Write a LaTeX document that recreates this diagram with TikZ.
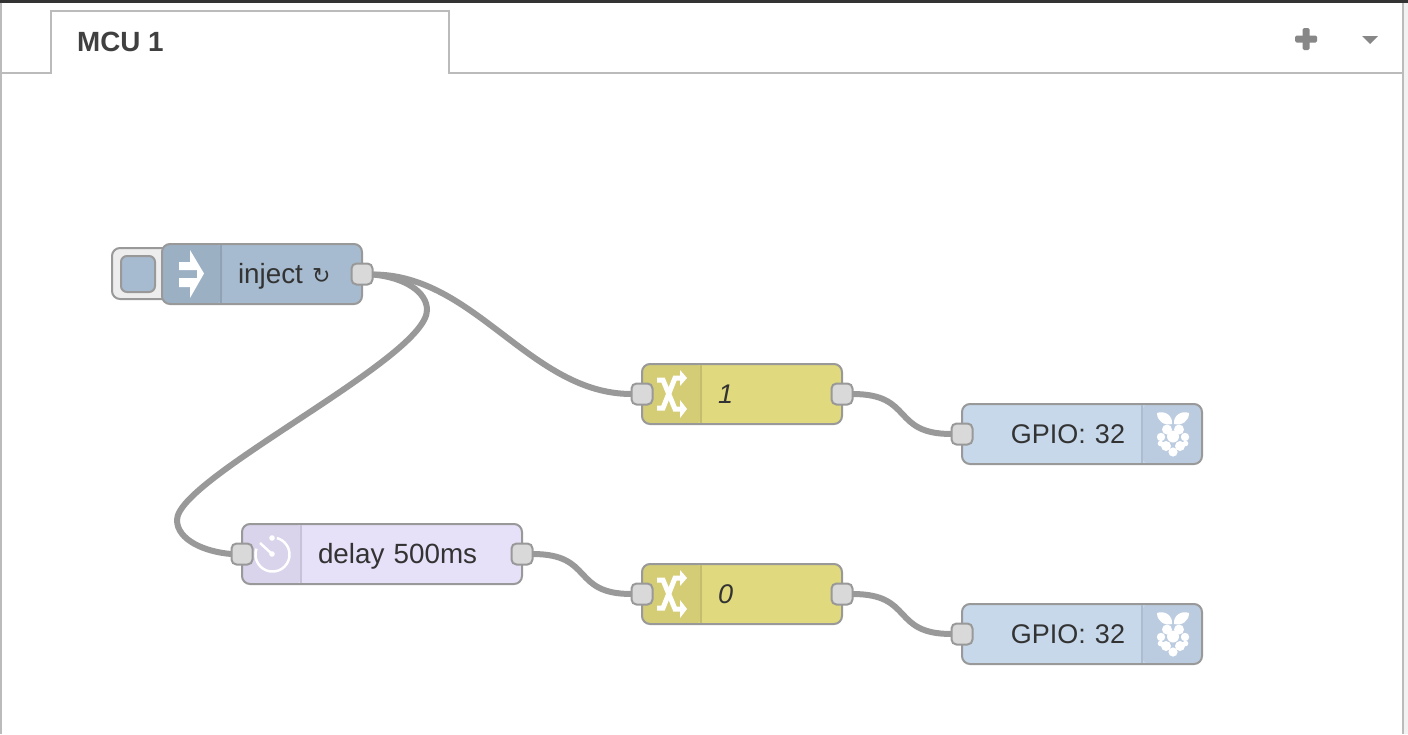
\documentclass[tikz,border=0pt]{standalone}
\usepackage{fontspec}
\setmainfont{Liberation Sans}
\newfontfamily\symbolfont{DejaVu Sans}
\usetikzlibrary{positioning}
\usetikzlibrary{calc}
\definecolor{wiregray}{HTML}{999999}
\definecolor{tabgray}{HTML}{BBBBBB}
\definecolor{inktext}{HTML}{333333}
\definecolor{injectblue}{HTML}{A6BBCF}
\definecolor{injecticon}{HTML}{9CB0C4}
\definecolor{changeyellow}{HTML}{E0D97D}
\definecolor{changeicon}{HTML}{D4CD76}
\definecolor{delaylilac}{HTML}{E6E0F8}
\definecolor{delayicon}{HTML}{D9D3EB}
\definecolor{gpioblue}{HTML}{C7D8EB}
\definecolor{gpioicon}{HTML}{BCCCE0}
\tikzstyle{wire}=
[line width=6pt,wiregray]
\tikzstyle{flownode}=
[rectangle,
rounded corners=8pt,
minimum height=60pt,
line width=2pt,
draw=wiregray,
outer sep=0pt,
inner xsep=0pt,
inner ysep=0pt,
text=inktext,
text height=22pt,
text depth=4pt,
font=\fontsize{27}{30}\selectfont]
\tikzstyle{leftpart}=
[path picture={\fill[#1] (path picture bounding box.north west) rectangle ++(60pt,-60pt);},
align=left,
execute at begin node={\hspace*{76pt}}]
\tikzstyle{rightpart}=
[path picture={\fill[#1] (path picture bounding box.north east) rectangle ++(-60pt,-60pt);},
align=right,
execute at end node={\hspace*{77pt}}]
\tikzstyle{port}=
[rectangle,
rounded corners=5pt,
minimum size=21pt,
inner sep=0pt,
outer sep=0pt,
line width=2pt,
draw=wiregray,
fill=black!15]
\newcommand{\piicon}[1]{
\begin{scope}[shift={(#1)},white]
\fill (-16,-21) .. controls (-8,-24) and (0,-18) .. (-1,-10) .. controls (-9,-8) and (-16,-13) .. cycle;
\fill (16,-21) .. controls (8,-24) and (0,-18) .. (1,-10) .. controls (9,-8) and (16,-13) .. cycle;
\foreach \bx/\by/\br in {-6/-4.5/5,6/-4.5/5,-12/3/4.2,0/2.5/6,12/3/4.2,-7/12/5,7/12/5,-12.5/9.5/2.8,12.5/9.5/2.8,0/18/4.6}
\fill (\bx,\by) circle (\br pt);
\end{scope}}
\begin{document}
\begin{tikzpicture}[x=1pt,y=-1pt]
\useasboundingbox (0,0) rectangle (1408,734);
\fill[white] (0,0) rectangle (1408,734);
\fill[black!80] (0,0) rectangle (1408,2.5);
\fill[black!5] (1403,2.5) rectangle (1408,734);
\draw[line width=2pt,tabgray] (1,2.5)--(1,734);
\draw[line width=2pt,tabgray] (1403,2.5)--(1403,734);
\draw[line width=2pt,tabgray] (1,72.5)--(51,72.5)--(51,11)--(449,11)--(449,72.5)--(1403,72.5);
\node (tab)
[anchor=west,
inner sep=0pt,
text=black!75,
font=\fontsize{27.8}{30}\bfseries\selectfont]
at (77,42) {MCU 1};
\fill[black!47,rounded corners=1.5pt] (1295,35.5) rectangle (1317,42.5);
\fill[black!47,rounded corners=1.5pt] (1302.5,28) rectangle (1309.5,50);
\fill[black!47] (1362,36)--(1378,36)--(1370,44)--cycle;
% wires
\coordinate (injectend) at (373,274.5);
\coordinate (onestart) at (631.5,394);
\coordinate (delaystart) at (231.5,554);
\draw[wire] (injectend) .. controls +(102,0) and +(-101,0) .. (onestart);
\draw[wire] (injectend) .. controls +(32,3) and (427,292) .. (427,310) .. controls (427,358) and (177,478) .. (177,520) .. controls (177,540) and (205,552) .. (delaystart);
% inject
\node (button)
[rectangle,
rounded corners=8pt,
minimum width=62pt,
minimum height=51pt,
line width=2pt,
draw=wiregray,
fill=black!7]
at (143,273.5) {};
\node (buttoninner)
[rectangle,
rounded corners=6pt,
minimum width=34pt,
minimum height=36pt,
line width=2pt,
draw=wiregray,
fill=injectblue]
at (138,274) {};
\node (inject)
[flownode,
minimum width=200pt,
text width=200pt,
fill=injectblue,
font=\fontsize{27.8}{30}\selectfont,
leftpart=injecticon]
at (262,274) {inject {\symbolfont\fontsize{22}{22}\selectfont ↻}};
\fill[white] (190,250)--(204,273.5)--(190,298)--(190,287)--(179,287)--(179,278)--(197,278)--(197,270)--(179,270)--(179,262)--(190,262)--cycle;
\draw[line width=1.5pt,injecticon!92!black] (221,245)--(221,303);
\node (injectout)
[port]
at (inject.east) {};
% change 1
\node (one)
[flownode,
minimum width=200pt,
text width=200pt,
fill=changeyellow,
leftpart=changeicon]
at (742,394) {\itshape 1};
\node (onein)
[port]
at (one.west) {};
\node (oneout)
[port]
at (one.east) {};
% change 0
\node (zero)
[flownode,
minimum width=200pt,
text width=200pt,
fill=changeyellow,
leftpart=changeicon]
at (742,594) {\itshape 0};
\node (zeroin)
[port]
at (zero.west) {};
\node (zeroout)
[port]
at (zero.east) {};
\foreach \iconpos in {one,zero}{
\begin{scope}[shift={(\iconpos.west)}]
\draw[line width=1.5pt,changeicon!92!black] (59,-29)--(59,29);
\draw[line width=5pt,white] (15,-14)--(21,-14)--(33,15)--(40,15);
\draw[line width=5pt,white] (15,14)--(21,14)--(33,-16)--(40,-16);
\fill[white] (38,-24)--(45,-16)--(38,-8)--cycle;
\fill[white] (38,6)--(45,15)--(38,24)--cycle;
\end{scope}}
% delay
\node (delay)
[flownode,
minimum width=280pt,
text width=280pt,
fill=delaylilac,
font=\fontsize{27.8}{30}\selectfont,
leftpart=delayicon]
at (382,554) {delay 500ms};
\node (delayin)
[port]
at (delay.west) {};
\node (delayout)
[port]
at (delay.east) {};
\draw[line width=1.5pt,delayicon!92!black] (301,525)--(301,583);
\draw[line width=2.5pt,white] plot[domain=75:-200,samples=50,smooth] ({272.5+17*cos(\x)},{554.5-17*sin(\x)});
\draw[line width=2.5pt,white] (260,543)--(272,554);
\fill[white] (272,538) circle (2.8pt);
\fill[white] (272,554) circle (2.8pt);
% gpio
\node (gpioa)
[flownode,
minimum width=240pt,
text width=240pt,
fill=gpioblue,
rightpart=gpioicon]
at (1082,434) {GPIO: 32};
\node (gpioain)
[port]
at (gpioa.west) {};
\node (gpiob)
[flownode,
minimum width=240pt,
text width=240pt,
fill=gpioblue,
rightpart=gpioicon]
at (1082,634) {GPIO: 32};
\node (gpiobin)
[port]
at (gpiob.west) {};
\draw[line width=1.5pt,gpioicon!92!black] (1142,405)--(1142,463);
\draw[line width=1.5pt,gpioicon!92!black] (1142,605)--(1142,663);
\piicon{1173,434}
\piicon{1173,634}
\draw[wire] (oneout.east) .. controls +(62,0) and +(-61,0) .. (gpioain.west);
\draw[wire] (delayout.east) .. controls +(62,0) and +(-61,0) .. (zeroin.west);
\draw[wire] (zeroout.east) .. controls +(62,0) and +(-61,0) .. (gpiobin.west);
\end{tikzpicture}
\end{document}
